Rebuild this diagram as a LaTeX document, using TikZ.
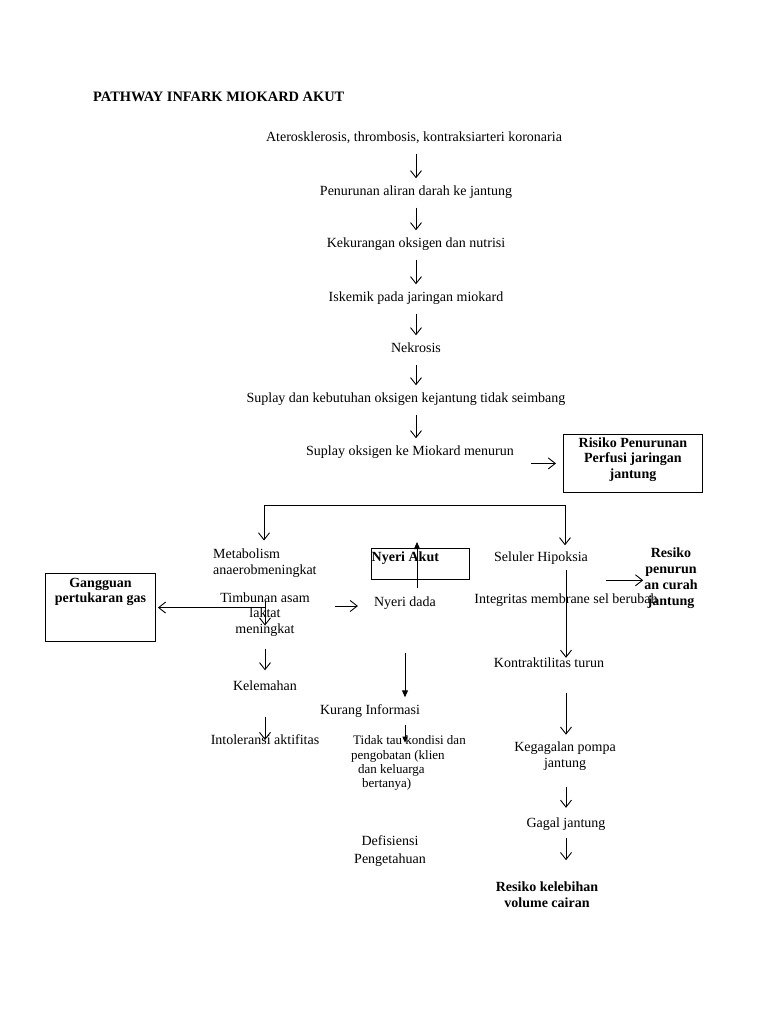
\documentclass[tikz,border=0pt]{standalone}
\usepackage{fontspec}
\setmainfont{Liberation Serif}
\usetikzlibrary{arrows.meta,calc}
\begin{document}
\begin{tikzpicture}[x=1pt,y=-1pt,
  every node/.style={font=\fontsize{14}{16}\selectfont, inner sep=0pt},
  tx/.style={text height=12pt, text depth=1pt},
  bf/.style={font=\fontsize{14}{15.5}\selectfont\bfseries},
  arr/.style={line width=0.9pt, -{Straight Barb[length=7pt,width=11pt]}},
  farr/.style={line width=0.9pt, -{Triangle[length=7pt,width=6pt]}},
  plain/.style={line width=0.9pt},
  box/.style={draw, line width=0.9pt}]
\fill[white] (0,0) rectangle (768,1024);
\useasboundingbox (0,0) rectangle (768,1024);

% title
\node[tx, font=\fontsize{14.4}{16}\selectfont\bfseries, anchor=west] (title) at (93,96) {PATHWAY INFARK MIOKARD AKUT};

% main chain
\coordinate (sp) at (416,0);
\node[tx] (n1) at (414,136) {Aterosklerosis, thrombosis, kontraksiarteri koronaria};
\node[tx] (n2) at (416,190) {Penurunan aliran darah ke jantung};
\node[tx] (n3) at (416,242) {Kekurangan oksigen dan nutrisi};
\node[tx] (n4) at (416,296) {Iskemik pada jaringan miokard};
\node[tx] (n5) at (416,347) {Nekrosis};
\node[tx] (n6) at (406,397) {Suplay dan kebutuhan oksigen kejantung tidak seimbang};
\node[tx] (n7) at (410,450) {Suplay oksigen ke Miokard menurun};
\foreach \a/\b in {n1/n2,n2/n3,n3/n4,n4/n5,n5/n6,n6/n7}
  \draw[arr, shorten <=11pt, shorten >=5pt] (\a.south -| sp) -- (\b.north -| sp);

% Risiko box
\node[box, minimum width=139pt, minimum height=58pt, anchor=north west,
  label={[anchor=north, yshift=-3.5pt, align=center, bf]north:Risiko Penurunan\\Perfusi jaringan\\jantung}] (rp) at (563,434) {};
\draw[arr, shorten <=17pt, shorten >=7pt] (n7.east |- rp.west) -- (rp.west);

% branch
\coordinate (bl) at (264,505);
\coordinate (br) at (565,505);
\draw[plain] (bl) -- (br);

% left column
\node[anchor=north west, align=left] (met) at (213,548.5) {Metabolism\\anaerobmeningkat};
\draw[arr, shorten >=8pt] (bl) -- (bl |- met.north);
\node[anchor=north, align=center, font=\fontsize{14}{15.5}\selectfont] (tim) at (265,592.5) {Timbunan asam\\laktat\\meningkat};
\draw[arr] ($(tim.center)+(0,-14)$) -- ($(tim.center)+(0,11)$);

\node[box, minimum width=110pt, minimum height=68pt, anchor=north west,
  label={[anchor=north, yshift=-5.5pt, align=center, font=\fontsize{14}{15}\selectfont\bfseries]north:Gangguan\\pertukaran gas}] (gg) at (45,573) {};
\draw[arr, shorten >=2pt] ($(tim.center)+(0,-7)$) coordinate (tl) -- (tl -| gg.east);

\node[tx] (kel) at (265,685) {Kelemahan};
\node[tx] (it) at (265,739) {Intoleransi aktifitas};
\draw[arr, shorten <=12pt, shorten >=8pt] (tim.south) -- (kel.north);
\draw[arr, shorten <=25pt] (kel.south) -- ($(it.center)+(0,1)$);

% middle column
\node[box, minimum width=98pt, minimum height=31pt, anchor=north west,
  label={[anchor=north west, xshift=0.5pt, yshift=-1.5pt, tx, bf]north west:Nyeri Akut}] (na) at (371,548) {};
\node[tx] (nd) at (405,601) {Nyeri dada};
\path ($(nd.west)+(0,5)$) coordinate (ndw);
\draw[arr, shorten <=25pt, shorten >=16pt] (tim.east |- ndw) -- (ndw);
\draw[farr] ($(nd.north)+(12,-6)$) -- ($(nd.north |- na.north)+(12,-6)$);

\node[tx] (ki) at (370,709) {Kurang Informasi};
\draw[farr, shorten <=45pt, shorten >=5pt] (nd.south) -- (nd.south |- ki.north);
\draw[farr, shorten <=9pt, -{Triangle[length=6pt,width=5pt]}] (ki.south -| nd.south) -- ($(ki.south -| nd.south)+(0,27)$);

\node[anchor=north west, align=left, font=\fontsize{13}{14.3}\selectfont] (td) at (351,735.5)
  {\hspace*{2pt}Tidak tau kondisi dan\\pengobatan (klien\\\hspace*{7pt}dan keluarga\\\hspace*{11pt}bertanya)};

\node[anchor=north, align=center, font=\fontsize{14}{18}\selectfont] (dp) at (390,835.7) {Defisiensi\\Pengetahuan};

% right column
\coordinate (rc) at (566,0);
\node[tx] (sh) at (541,556) {Seluler Hipoksia};
\draw[arr, shorten >=4pt] (br) -- (br |- sh.north);
\node[tx] (ig) at (566,598) {Integritas membrane sel berubah};
\node[anchor=north, align=center, font=\fontsize{14}{16}\selectfont\bfseries] (rcj) at (671,547.7) {Resiko\\penurun\\an curah\\jantung};
\path ($(rcj.west)+(-38,2)$) coordinate (ra);
\draw[arr, shorten >=1pt] (ra) -- (ra -| rcj.west);

\node[tx] (kt) at (549,662) {Kontraktilitas turun};
\draw[arr, shorten <=7.5pt, shorten >=-2.5pt] (sh.south -| rc) -- (kt.north -| rc);

\node[anchor=north, align=center] (kg) at (565,741.7) {Kegagalan pompa\\jantung};
\draw[arr, shorten <=24pt, shorten >=7pt] (kt.south -| rc) -- (kg.north -| rc);

\node[tx] (gj) at (566,822) {Gagal jantung};
\draw[arr, shorten <=16pt, shorten >=7.5pt] (kg.south -| rc) -- (gj.north -| rc);

\node[anchor=north, align=center, font=\fontsize{14}{16}\selectfont\bfseries] (rk) at (547,881.7) {Resiko kelebihan\\volume cairan};
\draw[arr, shorten <=9.5pt, shorten >=21.5pt] (gj.south -| rc) -- (rk.north -| rc);
\end{tikzpicture}
\end{document}
